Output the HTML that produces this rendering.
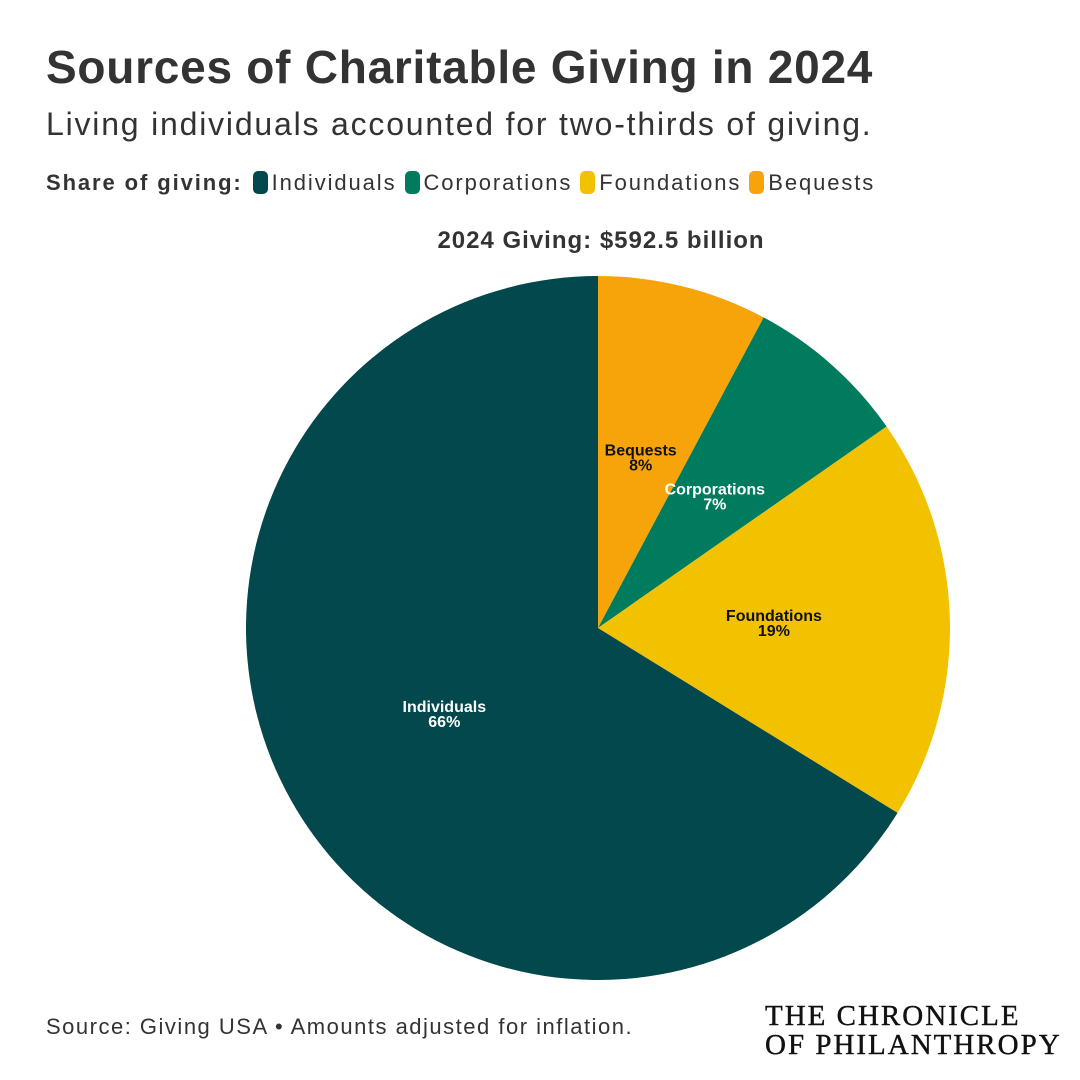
<!DOCTYPE html>
<html><head><meta charset="utf-8"><style>
body{margin:0;width:1080px;height:1080px;background:#fff;font-family:"Liberation Sans",sans-serif;color:#333;position:relative;overflow:hidden}
.a{position:absolute;white-space:nowrap}
.sw{display:inline-block;width:15px;height:23px;border-radius:5px;vertical-align:-4px;margin:0 4px 0 8px}
</style></head><body>
<div class="a" style="left:46px;top:40px;font-size:46px;font-weight:bold;color:#333;letter-spacing:0.75px">Sources of Charitable Giving in 2024</div>
<div class="a" style="left:46px;top:106px;font-size:32px;color:#333;letter-spacing:1.8px">Living individuals accounted for two-thirds of giving.</div>
<div class="a" style="left:46px;top:170px;font-size:22px;color:#333;letter-spacing:1.9px">
<b>Share of giving:</b><span><span class="sw" style="background:#02484c;margin-left:10px"></span>Individuals</span><span><span class="sw" style="background:#017b5e"></span>Corporations</span><span><span class="sw" style="background:#f2c200"></span>Foundations</span><span><span class="sw" style="background:#f7a40b"></span>Bequests</span></div>
<div class="a" style="left:0;width:1202px;text-align:center;top:227px;font-size:24px;font-weight:bold;color:#333;letter-spacing:1px">2024 Giving: $592.5 billion</div>
<svg id="pie" class="a" style="left:0;top:0" width="1080" height="1080"></svg>
<div class="a" style="left:46px;top:1014px;font-size:22px;color:#333;letter-spacing:1.5px">Source: Giving USA • Amounts adjusted for inflation.</div>
<div class="a" style="left:765px;top:1002px;font-family:'Liberation Serif',serif;font-size:29px;line-height:29px;color:#111;letter-spacing:2px;-webkit-text-stroke:0.4px #111">THE CHRONICLE<br>OF PHILANTHROPY</div>
<script>
const categories=["Bequests","Corporations","Foundations","Individuals"];
const values=[7.8,7.5,18.5,66.2];
const labels=["8%","7%","19%","66%"];
const colors=["#f7a40b","#017b5e","#f2c200","#02484c"];
const textColors=["#111","#fff","#111","#fff"];
const cx=598,cy=628,R=352;
const svg=document.getElementById('pie');
const NS="http://www.w3.org/2000/svg";
const total=values.reduce((a,b)=>a+b,0);
function pt(frac,r){const a=frac*2*Math.PI;return [cx+r*Math.sin(a),cy-r*Math.cos(a)];}
let cum=0;
values.forEach((v,i)=>{
  const s=cum/total,e=(cum+v)/total;cum+=v;
  const p0=pt(s,R),p1=pt(e,R);
  const path=document.createElementNS(NS,'path');
  path.setAttribute('d',`M${cx},${cy}L${p0[0]},${p0[1]}A${R},${R} 0 ${e-s>0.5?1:0} 1 ${p1[0]},${p1[1]}Z`);
  path.setAttribute('fill',colors[i]);
  
  
  svg.appendChild(path);
  const m=pt((s+e)/2,R*0.5);
  const t=document.createElementNS(NS,'text');
  t.setAttribute('x',m[0]);t.setAttribute('y',m[1]-2);
  t.setAttribute('text-anchor','middle');
  t.setAttribute('font-size','16');t.setAttribute('font-weight','bold');
  t.setAttribute('fill',textColors[i]);
  t.setAttribute('font-family','Liberation Sans, sans-serif');
  
  
  const a=document.createElementNS(NS,'tspan');a.setAttribute('x',m[0]);a.textContent=categories[i];
  const b=document.createElementNS(NS,'tspan');b.setAttribute('x',m[0]);b.setAttribute('dy','15');b.textContent=labels[i];
  t.appendChild(a);t.appendChild(b);svg.appendChild(t);
});
</script>
</body></html>
